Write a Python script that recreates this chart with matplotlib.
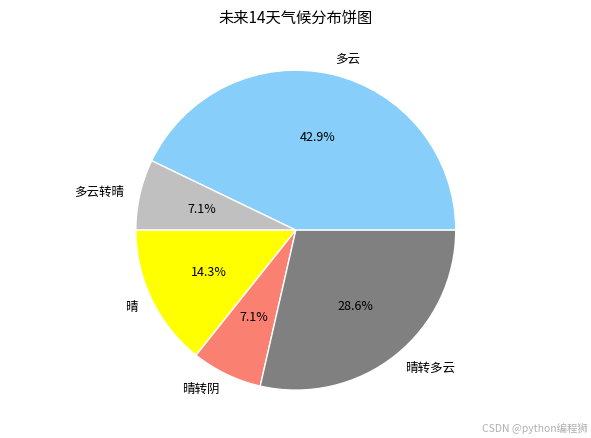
import matplotlib
matplotlib.use('Agg')
import matplotlib.pyplot as plt

plt.rcParams['font.family'] = ['Noto Sans CJK SC', 'DejaVu Sans']

labels = ['多云', '多云转晴', '晴', '晴转阴', '晴转多云']
days = [6, 1, 2, 1, 4]
colors = ['lightskyblue', 'silver', 'yellow', 'salmon', 'grey']

fig = plt.figure(figsize=(5.91, 4.39), dpi=100)
ax = fig.add_axes([0.162, 0.018, 0.677, 0.911])
ax.pie(days, labels=labels, colors=colors, autopct='%.1f%%',
       wedgeprops={'edgecolor': 'white', 'linewidth': 1},
       textprops={'fontsize': 9})
ax.set_aspect('equal')
fig.text(0.5, 0.958, '未来14天气候分布饼图', ha='center', va='center', fontsize=11)
fig.text(0.995, 0.025, 'CSDN @python编程狮', ha='right', va='center',
         fontsize=7.5, color='#b0b0b0')

fig.savefig('out.png', dpi=100)
